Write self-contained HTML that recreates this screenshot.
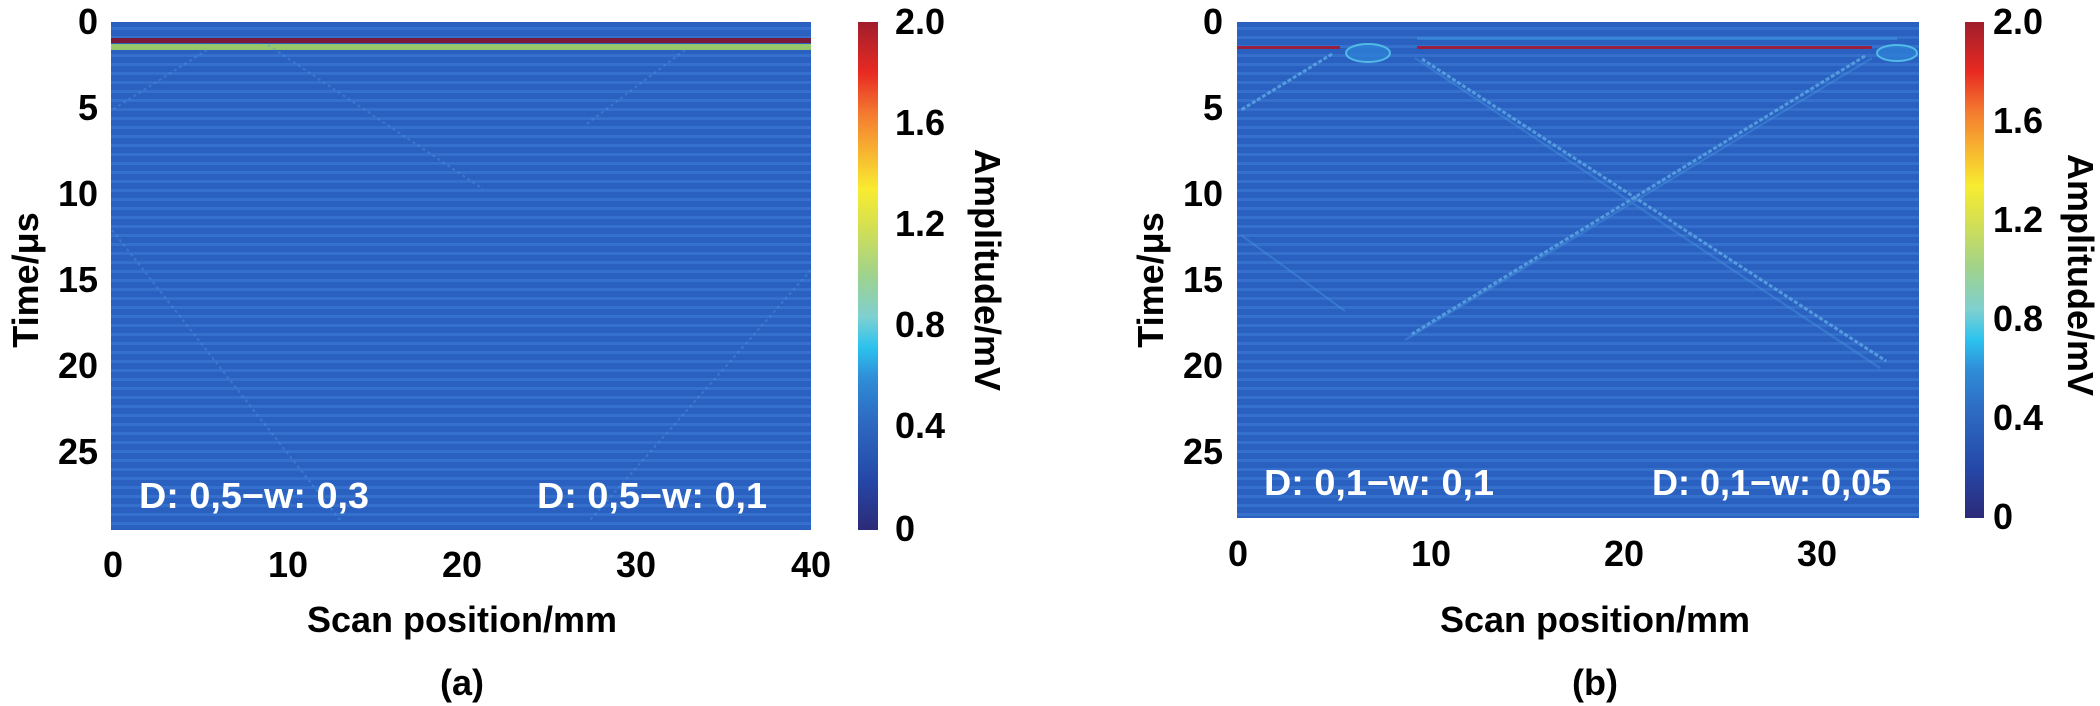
<!DOCTYPE html>
<html><head><meta charset="utf-8"><style>
html,body{margin:0;padding:0;background:#fff;width:2100px;height:706px;overflow:hidden}
svg text{font-family:"Liberation Sans",sans-serif;font-weight:bold}
</style></head><body>
<svg width="2100" height="706" viewBox="0 0 2100 706" xmlns="http://www.w3.org/2000/svg">
<defs>
<linearGradient id="cb" x1="0" y1="1" x2="0" y2="0">
<stop offset="0" stop-color="#2c2a78"/>
<stop offset="0.1" stop-color="#2548a8"/>
<stop offset="0.22" stop-color="#2e6cc4"/>
<stop offset="0.3" stop-color="#2f8ed8"/>
<stop offset="0.36" stop-color="#2cc3ee"/>
<stop offset="0.42" stop-color="#7fd0d0"/>
<stop offset="0.5" stop-color="#9ed28e"/>
<stop offset="0.6" stop-color="#d6e050"/>
<stop offset="0.67" stop-color="#f8ec30"/>
<stop offset="0.75" stop-color="#f7b030"/>
<stop offset="0.82" stop-color="#f47a30"/>
<stop offset="0.9" stop-color="#e82a22"/>
<stop offset="1" stop-color="#a01e2c"/>
</linearGradient>
<pattern id="st" width="10" height="9" patternUnits="userSpaceOnUse">
<rect width="10" height="9" fill="#2a61c1"/>
<rect y="0" width="10" height="3" fill="#3570cc"/>
</pattern>
</defs>

<!-- Panel a -->
<rect x="111" y="22" width="700" height="508" fill="url(#st)"/>
<rect x="111" y="38" width="700" height="5" fill="#7a1a3a"/>
<rect x="111" y="44" width="700" height="6" fill="#a8d85a" opacity="0.85"/>
<g stroke="#4a9ae0" stroke-width="2" opacity="0.4" fill="none" stroke-dasharray="3 3">
<line x1="268" y1="45" x2="483" y2="189"/>
<line x1="685" y1="50" x2="584" y2="126"/>
<line x1="207" y1="50" x2="112" y2="110"/>
<line x1="112" y1="230" x2="340" y2="520"/>
<line x1="811" y1="270" x2="590" y2="520"/>
</g>
<text x="139" y="508" font-size="36" fill="#fff" transform="translate(139 0) scale(1.05 1) translate(-139 0)">D: 0,5−w: 0,3</text>
<text x="537" y="508" font-size="36" fill="#fff" transform="translate(537 0) scale(1.05 1) translate(-537 0)">D: 0,5−w: 0,1</text>
<g font-size="36" text-anchor="end" fill="#000">
<text x="98" y="34">0</text><text x="98" y="120">5</text><text x="98" y="206">10</text>
<text x="98" y="292">15</text><text x="98" y="378">20</text><text x="98" y="464">25</text>
</g>
<g font-size="36" text-anchor="middle">
<text x="113" y="577">0</text><text x="288" y="577">10</text><text x="462" y="577">20</text>
<text x="636" y="577">30</text><text x="811" y="577">40</text>
</g>
<text x="462" y="632" font-size="36" text-anchor="middle">Scan position/mm</text>
<text x="462" y="695" font-size="36" text-anchor="middle">(a)</text>
<text transform="translate(38 280) rotate(-90)" font-size="36" text-anchor="middle">Time/μs</text>
<rect x="858" y="22" width="20" height="508" fill="url(#cb)"/>
<g font-size="36">
<text x="895" y="34">2.0</text><text x="895" y="135">1.6</text><text x="895" y="236">1.2</text>
<text x="895" y="337">0.8</text><text x="895" y="438">0.4</text><text x="895" y="541">0</text>
</g>
<text transform="translate(975 270) rotate(90)" font-size="36" text-anchor="middle">Amplitude/mV</text>

<!-- Panel b -->
<rect x="1237" y="22" width="682" height="496" fill="url(#st)"/>
<rect x="1237" y="46" width="103" height="3" fill="#9a2040"/>
<rect x="1417" y="46" width="455" height="3" fill="#9a2040"/>
<rect x="1417" y="37" width="480" height="3" fill="#3a9ae0" opacity="0.5"/>
<ellipse cx="1368" cy="53" rx="22" ry="9" fill="#2e7fd6" stroke="#5ad0f0" stroke-width="2" opacity="0.8"/>
<ellipse cx="1897" cy="53" rx="20" ry="8" fill="#2e7fd6" stroke="#5ad0f0" stroke-width="2" opacity="0.8"/>
<g stroke="#6ab8ec" stroke-width="3" opacity="0.65" fill="none" stroke-dasharray="4 2">
<line x1="1422" y1="59" x2="1886" y2="361"/>
<line x1="1865" y1="56" x2="1412" y2="334"/>
<line x1="1332" y1="54" x2="1241" y2="110"/>
</g>
<g stroke="#4a9ae0" stroke-width="2" opacity="0.4" fill="none">
<line x1="1241" y1="235" x2="1345" y2="311"/>
<line x1="1415" y1="58" x2="1880" y2="368"/>
<line x1="1872" y1="58" x2="1405" y2="340"/>
</g>
<text x="1264" y="495" font-size="36" fill="#fff" transform="translate(1264 0) scale(1.05 1) translate(-1264 0)">D: 0,1−w: 0,1</text>
<text x="1652" y="495" font-size="36" fill="#fff" transform="translate(1652 0) scale(1.0 1) translate(-1652 0)">D: 0,1−w: 0,05</text>
<g font-size="36" text-anchor="end">
<text x="1223" y="34">0</text><text x="1223" y="120">5</text><text x="1223" y="206">10</text>
<text x="1223" y="292">15</text><text x="1223" y="378">20</text><text x="1223" y="464">25</text>
</g>
<g font-size="36" text-anchor="middle">
<text x="1238" y="566">0</text><text x="1431" y="566">10</text><text x="1624" y="566">20</text><text x="1817" y="566">30</text>
</g>
<text x="1595" y="632" font-size="36" text-anchor="middle">Scan position/mm</text>
<text x="1595" y="695" font-size="36" text-anchor="middle">(b)</text>
<text transform="translate(1163 280) rotate(-90)" font-size="36" text-anchor="middle">Time/μs</text>
<rect x="1965" y="22" width="19" height="496" fill="url(#cb)"/>
<g font-size="36">
<text x="1993" y="34">2.0</text><text x="1993" y="133">1.6</text><text x="1993" y="232">1.2</text>
<text x="1993" y="331">0.8</text><text x="1993" y="430">0.4</text><text x="1993" y="529">0</text>
</g>
<text transform="translate(2068 275) rotate(90)" font-size="36" text-anchor="middle">Amplitude/mV</text>
</svg>
</body></html>
